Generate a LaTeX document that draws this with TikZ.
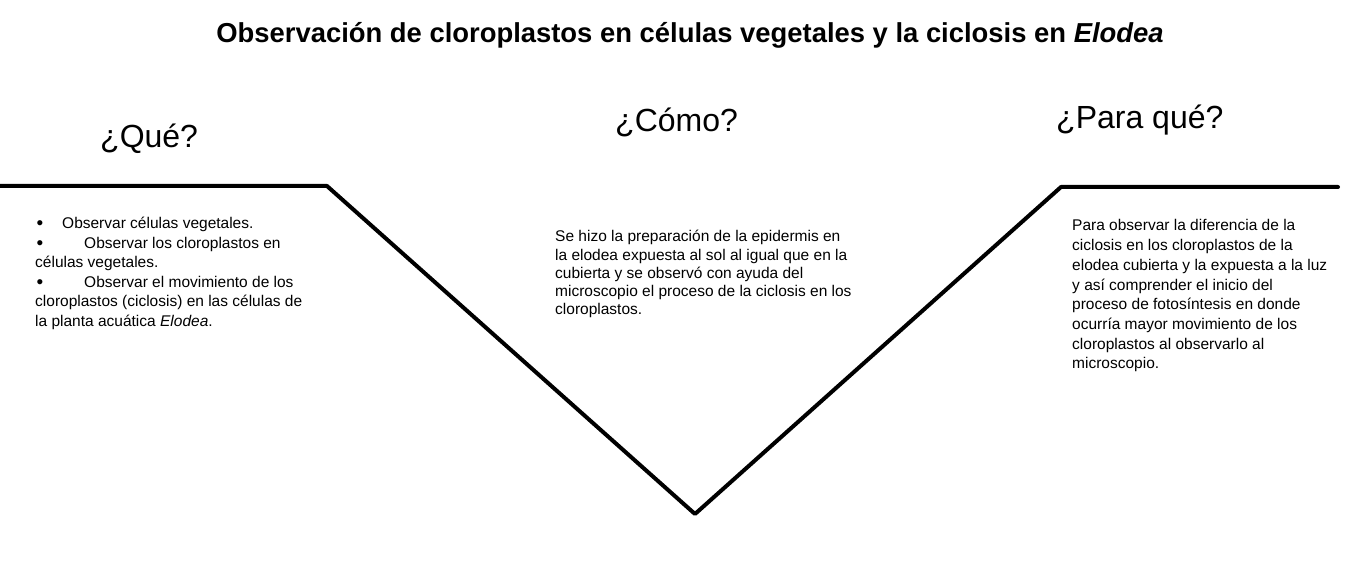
\documentclass[tikz,border=0pt]{standalone}
\usepackage{fontspec}
\setmainfont{Liberation Sans}
\newcommand{\bul}{\raisebox{-0.8pt}{\fontsize{19}{19}\selectfont•}}
\begin{document}
\begin{tikzpicture}[x=1pt,y=1pt,
  vline/.style={line width=4pt, line join=round, line cap=round},
  heading/.style={anchor=base west, inner sep=0pt, font=\fontsize{32}{36}\selectfont},
  body/.style={anchor=base west, inner sep=0pt, font=\fontsize{15.5}{19}\selectfont},
  titlefont/.style={anchor=base, inner sep=0pt, font=\fontsize{27.4}{32}\selectfont\bfseries}]
\useasboundingbox[fill=white] (0,0) rectangle (1360,-564);
\node[titlefont] (title) at (690,-43) {Observación de cloroplastos en células vegetales y la ciclosis en \textit{Elodea}};
\node[heading] (que) at (100,-148) {¿Qué?};
\node[heading] (como) at (615,-132) {¿Cómo?};
\node[heading] (para) at (1056,-129) {¿Para qué?};
\coordinate (a) at (0,-186);
\coordinate (b) at (327,-186);
\coordinate (c) at (695,-514);
\coordinate (d) at (1061,-187);
\coordinate (e) at (1338,-187);
\draw[vline] (a) -- (b) -- (c) -- (d) -- (e);
\foreach \t [count=\i from 0] in {%
  {\hspace*{1.5pt}\makebox[25.5pt][l]{\bul}Observar células vegetales.},
  {\hspace*{1.5pt}\makebox[47.5pt][l]{\bul}Observar los cloroplastos en},
  {células vegetales.},
  {\hspace*{1.5pt}\makebox[47.5pt][l]{\bul}Observar el movimiento de los},
  {cloroplastos (ciclosis) en las células de},
  {la planta acuática \textit{Elodea}.}}
  \node[body] (left-\i) at (35,-229-19.4*\i) {\t};
\foreach \t [count=\i from 0] in {%
  {Se hizo la preparación de la epidermis en},
  {la elodea expuesta al sol al igual que en la},
  {cubierta y se observó con ayuda del},
  {microscopio el proceso de la ciclosis en los},
  {cloroplastos.}}
  \node[body] (mid-\i) at (555,-242-18*\i) {\t};
\foreach \t [count=\i from 0] in {%
  {Para observar la diferencia de la},
  {ciclosis en los cloroplastos de la},
  {elodea cubierta y la expuesta a la luz},
  {y así comprender el inicio del},
  {proceso de fotosíntesis en donde},
  {ocurría mayor movimiento de los},
  {cloroplastos al observarlo al},
  {microscopio.}}
  \node[body] (right-\i) at (1072,-231-19.7*\i) {\t};
\end{tikzpicture}
\end{document}
